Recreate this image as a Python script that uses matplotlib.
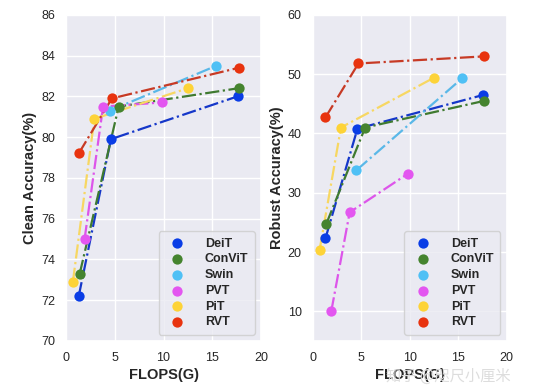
import matplotlib
matplotlib.use("Agg")
import matplotlib.pyplot as plt
import seaborn as sns

# model families, FLOPs (G) and accuracies
models = ["DeiT", "ConViT", "Swin", "PVT", "PiT", "RVT"]

flops = {
    "DeiT": [1.3, 4.6, 17.6],
    "ConViT": [1.4, 5.4, 17.7],
    "Swin": [4.5, 15.4],
    "PVT": [1.9, 3.8, 9.8],
    "PiT": [0.7, 2.9, 12.5],
    "RVT": [1.3, 4.7, 17.7],
}

clean_acc = {
    "DeiT": [72.2, 79.9, 82.0],
    "ConViT": [73.3, 81.5, 82.4],
    "Swin": [81.3, 83.5],
    "PVT": [75.0, 81.5, 81.7],
    "PiT": [72.9, 80.9, 82.4],
    "RVT": [79.2, 81.9, 83.4],
}

robust_acc = {
    "DeiT": [22.3, 40.8, 46.5],
    "ConViT": [24.8, 41.0, 45.5],
    "Swin": [33.8, 49.3],
    "PVT": [10.0, 26.7, 33.2],
    "PiT": [20.4, 41.0, 49.4],
    "RVT": [42.7, 51.8, 53.0],
}

marker_colors = {
    "DeiT": "#0a3de6", "ConViT": "#45842f", "Swin": "#4fc0f5",
    "PVT": "#e356f0", "PiT": "#fdd338", "RVT": "#e8330f",
}
line_colors = {
    "DeiT": "#1537c9", "ConViT": "#3f7a30", "Swin": "#5ab8e8",
    "PVT": "#dd55ea", "PiT": "#f7d762", "RVT": "#c73a25",
}

sns.set_theme(style="darkgrid")
plt.rcParams["font.family"] = ["Liberation Sans", "DejaVu Sans"]

fig = plt.figure(figsize=(5.46, 3.91), dpi=100)
ax1 = fig.add_axes([0.121, 0.128, 0.357, 0.834])
ax2 = fig.add_axes([0.573, 0.128, 0.355, 0.834])


def draw(ax, acc, ylabel, ylim, yticks):
    for m in models:
        ax.plot(flops[m], acc[m], linestyle="-.", color=line_colors[m],
                linewidth=1.6, zorder=2)
        ax.scatter(flops[m], acc[m], s=55, color=marker_colors[m],
                   label=m, zorder=3, linewidths=0)
    ax.set_xlim(0, 20)
    ax.set_xticks([0, 5, 10, 15, 20])
    ax.set_ylim(*ylim)
    ax.set_yticks(yticks)
    ax.tick_params(labelsize=9, pad=2)
    ax.set_xlabel("FLOPS(G)", fontsize=10.5, fontweight="bold", labelpad=3)
    ax.set_ylabel(ylabel, fontsize=10.5, fontweight="bold", labelpad=3)
    leg = ax.legend(loc="lower right", prop={"weight": "bold", "size": 9},
                    frameon=True, handletextpad=1.2, labelspacing=0.3,
                    borderpad=0.5)
    leg.get_frame().set_edgecolor("#cccccc")


draw(ax1, clean_acc, "Clean Accuracy(%)", (70, 86), list(range(70, 87, 2)))
draw(ax2, robust_acc, "Robust Accuracy(%)", (5, 60), [10, 20, 30, 40, 50, 60])

fig.text(0.935, 0.038, "知乎 @咫尺小厘米", ha="right", va="center",
         fontsize=11, color="#dddddd", family=["Noto Sans CJK SC", "DejaVu Sans"])

fig.savefig("out.png", dpi=100)
